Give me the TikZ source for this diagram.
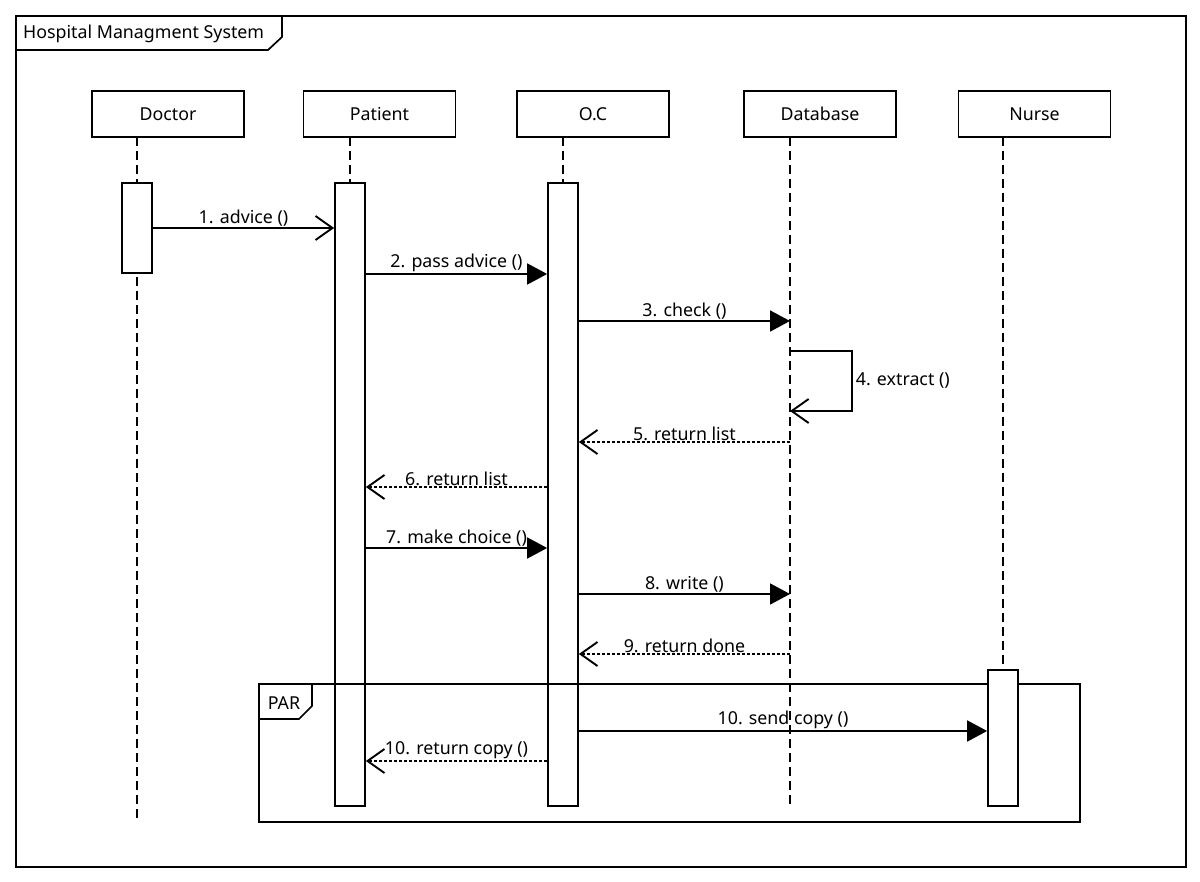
\documentclass[tikz,border=0pt]{standalone}
\usepackage{fontspec}
\setmainfont{Noto Sans}
\usetikzlibrary{arrows.meta,positioning,calc}
\tikzset{
  frame/.style={line width=1.7pt},
  txt/.style={font=\fontsize{17.8}{21}\selectfont,inner sep=1pt},
  head/.style={draw,line width=1.7pt,minimum width=152pt,minimum height=46pt,
               inner sep=0pt,font=\fontsize{17.8}{21}\selectfont},
  act/.style={draw,fill=white,line width=1.7pt,minimum width=30pt,inner sep=0pt},
  life/.style={line width=1.7pt,dash pattern=on 9pt off 5pt},
  call/.style={line width=1.7pt,-{Triangle[length=20pt,width=21pt]}},
  plain/.style={line width=1.7pt,-{Straight Barb[length=17pt,width=24pt,line width=1.9pt]}},
  ret/.style={line width=1.5pt,dash pattern=on 3pt off 2pt,
              -{Straight Barb[length=17pt,width=24pt,line width=1.9pt,line cap=butt]}},
  lbl/.style={txt,above=0pt},
}
\begin{document}
\begin{tikzpicture}[x=1pt,y=-1pt]
  \useasboundingbox (0,0) rectangle (1200,882);
  % outer frame and its tab
  \draw[frame] (16,16) rectangle (1186,867);
  \draw[frame] (16,50) -- (268,50) -- (282,37) -- (282,16);
  \node[txt,anchor=west] (title) at (22,34) {Hospital Managment System};

  % heads
  \node[head] (doctor)   at (168,114)   {Doctor};
  \node[head] (patient)  at (379.5,114) {Patient};
  \node[head] (oc)       at (593,114)   {O.C};
  \node[head] (database) at (820,114)   {Database};
  \node[head] (nurse)    at (1034.5,114){Nurse};

  % lifelines
  \coordinate (docT) at (137,137);  \coordinate (docB) at (137,822);
  \coordinate (patT) at (350,137);  \coordinate (patB) at (350,200);
  \coordinate (ocT)  at (563,137);  \coordinate (ocB)  at (563,200);
  \coordinate (dbT)  at (790,137);  \coordinate (dbB)  at (790,806);
  \coordinate (nurT) at (1003,137); \coordinate (nurB) at (1003,680);
  \foreach \a/\b in {docT/docB,patT/patB,ocT/ocB,dbT/dbB,nurT/nurB}
    \draw[life] (\a) -- (\b);

  % activations
  \node[act,minimum height=90pt]  (docAct) at (137,228)   {};
  \node[act,minimum height=623pt] (patAct) at (350,494.5) {};
  \node[act,minimum height=623pt] (ocAct)  at (563,494.5) {};

  % PAR fragment
  \draw[frame] (259,684) rectangle (1080,822);
  \draw[frame] (259,719) -- (299,719) -- (312,706) -- (312,684);
  \node[txt] (par) at (284,703) {PAR};
  \node[act,minimum height=136pt] (nurAct) at (1003,738) {};

  % messages
  \draw[plain] (docAct.east |- 0,228) -- (patAct.west |- 0,228) node[lbl,midway]{1. advice ()};
  \draw[call] (patAct.east |- 0,274) -- (ocAct.west |- 0,274) node[lbl,midway]{2. pass advice ()};
  \draw[call] (ocAct.east |- 0,321) -- (dbT |- 0,321) node[lbl,midway]{3. check ()};
  \draw[plain] (dbT |- 0,351) -- ++(62,0) -- ++(0,60) node[txt,midway,right=2pt]{4. extract ()}
    -- (dbT |- 0,411);
  \draw[ret] (dbT |- 0,442) -- (ocAct.east |- 0,442) node[lbl,midway]{5. return list};
  \draw[ret] (ocAct.west |- 0,487) -- (patAct.east |- 0,487) node[lbl,midway]{6. return list};
  \draw[call] (patAct.east |- 0,548) -- (ocAct.west |- 0,548) node[lbl,midway]{7. make choice ()};
  \draw[call] (ocAct.east |- 0,594) -- (dbT |- 0,594) node[lbl,midway]{8. write ()};
  \draw[ret] (dbT |- 0,654) -- (ocAct.east |- 0,654) node[lbl,midway]{9. return done};
  \draw[call] (ocAct.east |- 0,731) -- (nurAct.west |- 0,731) node[lbl,midway]{10. send copy ()};
  \draw[ret] (ocAct.west |- 0,761) -- (patAct.east |- 0,761) node[lbl,midway]{10. return copy ()};
\end{tikzpicture}
\end{document}
